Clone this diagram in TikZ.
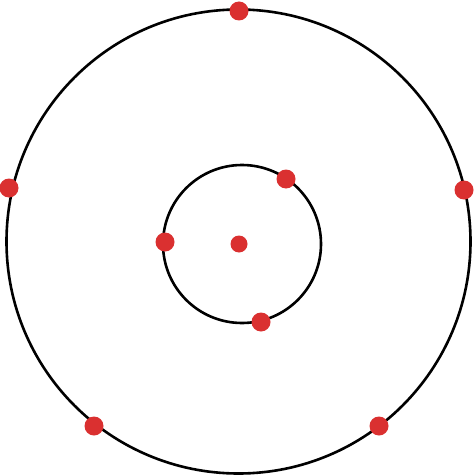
\documentclass[tikz,border=0pt]{standalone}
\usepackage{tikz}
\usetikzlibrary{positioning}
\definecolor{dotred}{RGB}{218,48,48}
\tikzstyle{dot}=[circle, fill=dotred, inner sep=0pt, minimum size=19pt]
\tikzstyle{ring}=[line width=2.6pt, draw=black]

\begin{document}
\begin{tikzpicture}[x=1pt, y=-1pt]
                \useasboundingbox (0,0) rectangle (474,476);
                % Cercles
                \draw[ring] (238.5,241.5) circle (232);
                \draw[ring] (242,244) circle (79);

                % Points exterieurs
                \node[dot] (top) at (239,11) {};
                \node[dot] (left) at (9,188) {};
                \node[dot] (right) at (464,190) {};
                \node[dot] (botleft) at (94,426) {};
                \node[dot] (botright) at (379,426) {};

                % Points interieurs
                \node[dot] (inA) at (286,179) {};
                \node[dot] (inB) at (165,242) {};
                \node[dot] (inC) at (261,322) {};
                \node[dot, minimum size=17pt] (centre) at (239,244) {};
            \end{tikzpicture}
\end{document}
